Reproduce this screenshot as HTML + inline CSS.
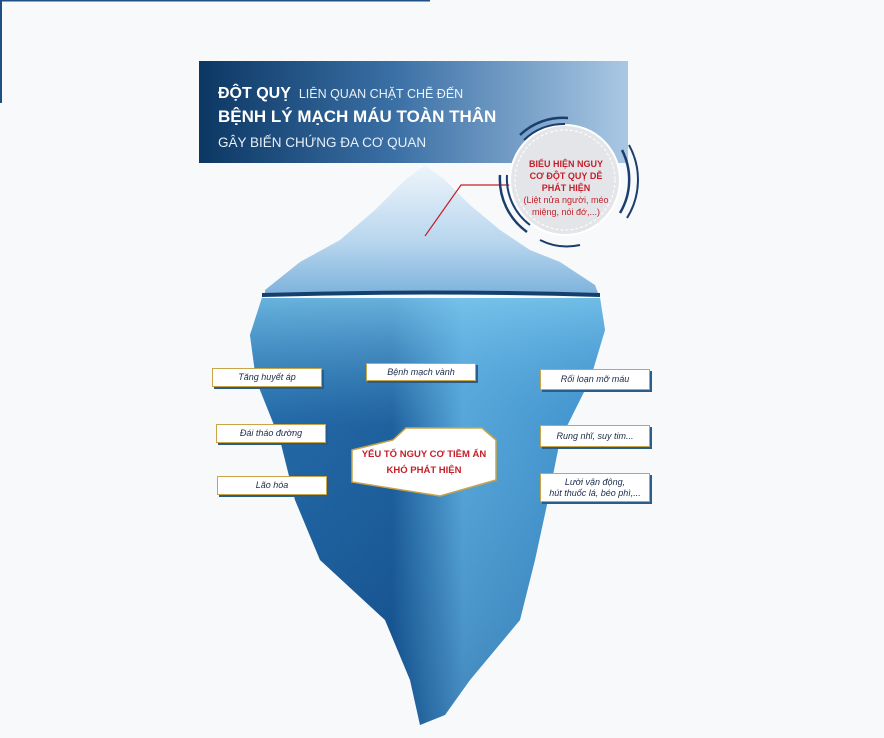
<!DOCTYPE html>
<html><head><meta charset="utf-8"><style>
body{margin:0;width:884px;height:738px;background:#f8f9fb;overflow:hidden;font-family:"Liberation Sans",sans-serif;position:relative}
.box{position:absolute;background:#fff;border:1.5px solid #c9a54a;box-shadow:2px 2px 0 #2a5d8a;font-style:italic;font-size:9px;color:#1b2a4a;text-align:center;display:flex;align-items:center;justify-content:center;line-height:11px}
</style></head><body>
<svg width="884" height="738" style="position:absolute;left:0;top:0">
<defs>
<linearGradient id="ban" x1="0" x2="1"><stop offset="0" stop-color="#0c3763"/><stop offset="0.45" stop-color="#3a6fa5"/><stop offset="1" stop-color="#a9c8e4"/></linearGradient>
<linearGradient id="ice" x1="0" x2="1"><stop offset="0" stop-color="#1a5c9c"/><stop offset="0.4" stop-color="#14518f"/><stop offset="0.6" stop-color="#5aa8da"/><stop offset="1" stop-color="#3d8cc8"/></linearGradient>
<linearGradient id="iceV" x1="0" y1="0" x2="0" y2="1"><stop offset="0" stop-color="#7cc8ee" stop-opacity="0.8"/><stop offset="0.3" stop-color="#4aa0d8" stop-opacity="0.2"/><stop offset="1" stop-color="#0a3f78" stop-opacity="0.3"/></linearGradient>
<linearGradient id="tip" x1="0" y1="0" x2="0" y2="1"><stop offset="0" stop-color="#eef5fb"/><stop offset="0.6" stop-color="#b8d6ee"/><stop offset="1" stop-color="#7fb3dc"/></linearGradient>
</defs>
<rect x="0" y="0" width="430" height="1.5" fill="#1f4f84"/>
<rect x="0" y="0" width="2" height="103" fill="#1f4f84"/>
<rect x="199" y="61" width="429" height="102" fill="url(#ban)"/>
<path d="M262,298 L250,335 L256,380 L280,440 L295,500 L320,560 L385,620 L410,680 L420,725 L445,715 L470,680 L520,620 L535,560 L548,500 L560,440 L590,380 L605,330 L600,298 Z" fill="url(#ice)"/>
<path d="M262,298 L250,335 L256,380 L280,440 L295,500 L320,560 L385,620 L410,680 L420,725 L445,715 L470,680 L520,620 L535,560 L548,500 L560,440 L590,380 L605,330 L600,298 Z" fill="url(#iceV)"/>
<path d="M265,290 L300,262 L340,240 L375,210 L405,180 L425,165 L445,180 L470,205 L500,230 L530,250 L560,262 L595,285 L598,293 L265,293 Z" fill="url(#tip)"/>
<path d="M262,293 Q430,288 600,293 L600,297 Q430,292 262,297 Z" fill="#14406e"/>
<polyline points="425,236 461,185 512,185" fill="none" stroke="#c4202b" stroke-width="1.2"/>
<circle cx="565" cy="180" r="55" fill="#e4e5e8" stroke="#fff" stroke-width="2"/>
<circle cx="565" cy="180" r="50" fill="none" stroke="#fff" stroke-width="1" stroke-dasharray="3 2"/>
<path d="M500,175 A65,65 0 0 0 527,232" fill="none" stroke="#1b3e6e" stroke-width="2.5"/>
<path d="M507,175 A58,58 0 0 0 530,225" fill="none" stroke="#1b3e6e" stroke-width="2"/>
<path d="M520,135 A62,62 0 0 1 568,118" fill="none" stroke="#1b3e6e" stroke-width="2.5"/>
<path d="M524,140 A56,56 0 0 1 565,124" fill="none" stroke="#1b3e6e" stroke-width="2"/>
<path d="M622,150 A65,65 0 0 1 620,213" fill="none" stroke="#1b3e6e" stroke-width="2.5"/>
<path d="M629,145 A72,72 0 0 1 627,218" fill="none" stroke="#1b3e6e" stroke-width="2"/>
<path d="M540,240 A60,60 0 0 0 580,245" fill="none" stroke="#1b3e6e" stroke-width="2"/>
<path d="M393,440 L406,428 L482,428 L496,440 L496,480 L440,496 L352,482 L352,450 Z" fill="#fff" stroke="#c9a54a" stroke-width="1.5"/>
</svg>
<div style="position:absolute;left:218px;top:85px;color:#fff;white-space:nowrap"><b style="font-size:16px">ĐỘT QUỴ</b> <span style="font-size:12.5px;opacity:.9">&nbsp;LIÊN QUAN CHẶT CHẼ ĐẾN</span></div>
<div style="position:absolute;left:218px;top:107px;color:#fff;font-size:17px;font-weight:bold;white-space:nowrap">BỆNH LÝ MẠCH MÁU TOÀN THÂN</div>
<div style="position:absolute;left:218px;top:135px;color:#e8f0f8;font-size:13.5px;white-space:nowrap">GÂY BIẾN CHỨNG ĐA CƠ QUAN</div>
<div style="position:absolute;left:518px;top:158px;width:96px;text-align:center;color:#c4202b;font-size:9px;font-weight:bold;line-height:12px"><div style="padding:0 6px">BIỂU HIỆN NGUY CƠ ĐỘT QUỴ DỄ PHÁT HIỆN</div><div style="font-weight:normal;font-size:9px;line-height:12px">(Liệt nửa người, méo miệng, nói đớ,...)</div></div>
<div class="box" style="left:212px;top:368px;width:108px;height:17px">Tăng huyết áp</div>
<div class="box" style="left:366px;top:363px;width:108px;height:16px">Bệnh mạch vành</div>
<div class="box" style="left:540px;top:369px;width:108px;height:19px">Rối loạn mỡ máu</div>
<div class="box" style="left:216px;top:424px;width:108px;height:17px">Đái tháo đường</div>
<div class="box" style="left:540px;top:425px;width:108px;height:20px">Rung nhĩ, suy tim...</div>
<div class="box" style="left:217px;top:476px;width:108px;height:17px">Lão hóa</div>
<div class="box" style="left:540px;top:473px;width:108px;height:27px">Lười vận động,<br>hút thuốc lá, béo phì,...</div>
<div style="position:absolute;left:352px;top:447px;width:144px;text-align:center;color:#c4202b;font-size:9.5px;font-weight:bold;line-height:16px">YẾU TỐ NGUY CƠ TIỀM ẨN<br>KHÓ PHÁT HIỆN</div>
</body></html>
